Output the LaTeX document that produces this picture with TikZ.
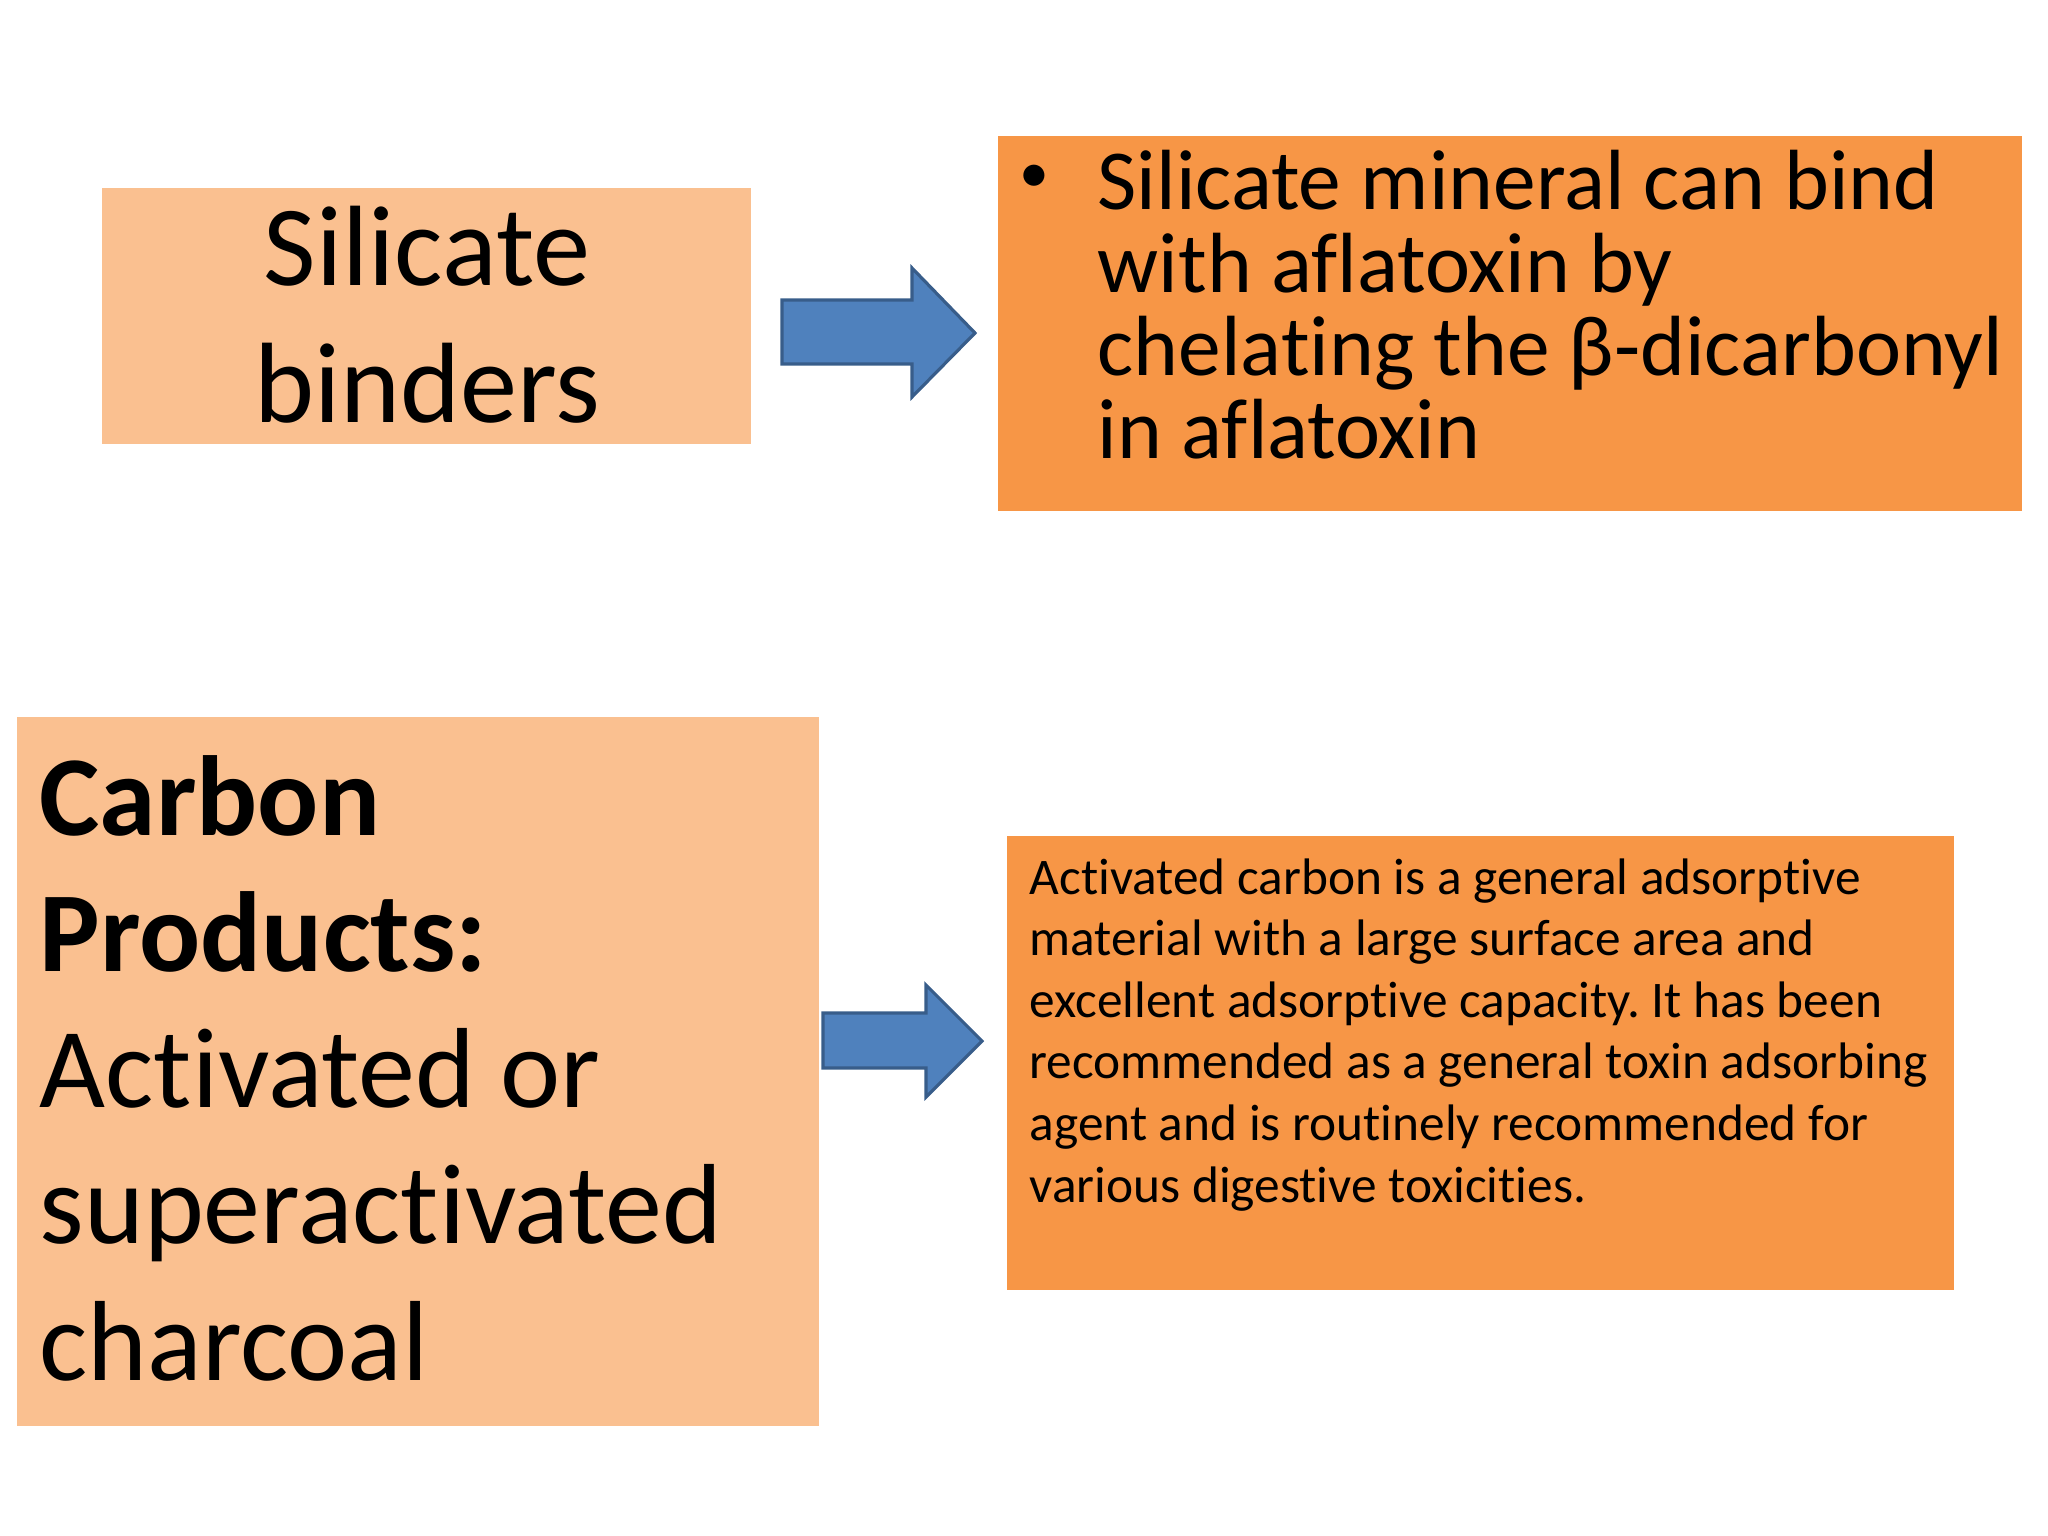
\documentclass[tikz,border=0pt]{standalone}
\usepackage{fontspec}
\setmainfont{Carlito}[Ligatures=CommonOff]
\frenchspacing
\definecolor{peach}{HTML}{FAC090}
\definecolor{tangerine}{HTML}{F79646}
\definecolor{arrowblue}{HTML}{4F81BD}
\definecolor{arrowedge}{HTML}{385D8A}
\tikzset{
  lightbox/.style={fill=peach},
  darkbox/.style={fill=tangerine},
  blockarrow/.style={fill=arrowblue, draw=arrowedge, line width=0.9pt, line join=miter},
  boxtext/.style={inner sep=0pt, anchor=base west, align=left}
}
\begin{document}
\begin{tikzpicture}[x=0.01cm, y=-0.01cm]
	\useasboundingbox (0,0) rectangle (2048,1536);
	% top row (text nodes sit on their last baseline)
	\fill[lightbox] (102,188) rectangle (751,444);
	\node[inner sep=0pt, anchor=base, align=center, font=\fontsize{32.5}{38.7}\selectfont] (binders) at (427,422) {Silicate\\binders};
	\draw[blockarrow] (782,300) -- (912,300) -- (912,268) -- (975,333) -- (912,397) -- (912,364) -- (782,364) -- cycle;
	\fill[darkbox] (998,136) rectangle (2022,511);
	\node[inner sep=0pt, anchor=center, font=\fontsize{17}{17}\selectfont] (bullet) at (1034,179) {•};
	\node[boxtext, font=\fontsize{24.3}{23.6}\selectfont] (silicate) at (1097,458) {Silicate mineral can bind\\with aflatoxin by\\chelating the β-dicarbonyl\\in aflatoxin};
	% bottom row
	\fill[lightbox] (17,717) rectangle (819,1426);
	\node[boxtext, font=\fontsize{32.4}{38.7}\selectfont] (carbon) at (39,1380) {\textbf{Carbon}\\\textbf{Products:}\\Activated or\\superactivated\\charcoal};
	\draw[blockarrow] (823,1013) -- (926,1013) -- (926,985) -- (982,1041) -- (926,1097) -- (926,1068) -- (823,1068) -- cycle;
	\fill[darkbox] (1007,836) rectangle (1954,1290);
	\node[boxtext, font=\fontsize{14.6}{17.5}\selectfont] (activated) at (1029,1202) {Activated carbon is a general adsorptive\\material with a large surface area and\\excellent adsorptive capacity. It has been\\recommended as a general toxin adsorbing\\agent and is routinely recommended for\\various digestive toxicities.};
\end{tikzpicture}
\end{document}
